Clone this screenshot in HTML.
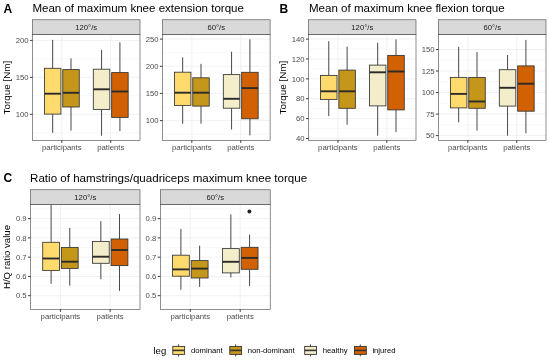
<!DOCTYPE html>
<html lang="en">
<head>
<meta charset="utf-8">
<title>Knee torque boxplots</title>
<style>
html,body{margin:0;padding:0;background:#fff;}
body{width:550px;height:360px;overflow:hidden;}
svg{display:block;font-family:'Liberation Sans', Arial, sans-serif;}
</style>
</head>
<body>
<svg width="550" height="360" viewBox="0 0 550 360">
<rect x="0" y="0" width="550" height="360" fill="#fff"/>
<rect x="32.5" y="34.4" width="107.5" height="105.9" fill="#fff"/>
<line x1="32.5" x2="140.0" y1="132.78" y2="132.78" stroke="#EBEBEB" stroke-width="0.35"/>
<line x1="32.5" x2="140.0" y1="95.82" y2="95.82" stroke="#EBEBEB" stroke-width="0.35"/>
<line x1="32.5" x2="140.0" y1="58.88" y2="58.88" stroke="#EBEBEB" stroke-width="0.35"/>
<line x1="32.5" x2="140.0" y1="40.4" y2="40.4" stroke="#EBEBEB" stroke-width="0.7"/>
<line x1="32.5" x2="140.0" y1="77.35" y2="77.35" stroke="#EBEBEB" stroke-width="0.7"/>
<line x1="32.5" x2="140.0" y1="114.3" y2="114.3" stroke="#EBEBEB" stroke-width="0.7"/>
<line x1="61.839999999999996" x2="61.839999999999996" y1="34.4" y2="140.3" stroke="#EBEBEB" stroke-width="0.7"/>
<line x1="110.74000000000001" x2="110.74000000000001" y1="34.4" y2="140.3" stroke="#EBEBEB" stroke-width="0.7"/>
<line x1="52.67" x2="52.67" y1="39.9" y2="68.3" stroke="#333333" stroke-width="0.9"/>
<line x1="52.67" x2="52.67" y1="114.1" y2="132.8" stroke="#333333" stroke-width="0.9"/>
<rect x="44.42" y="68.3" width="16.50" height="45.80" fill="#FFDB6D" stroke="#333333" stroke-width="0.85"/>
<line x1="44.42" x2="60.92" y1="93.70" y2="93.70" stroke="#2B2B2B" stroke-width="1.9"/>
<line x1="71.01" x2="71.01" y1="58.3" y2="69.6" stroke="#333333" stroke-width="0.9"/>
<line x1="71.01" x2="71.01" y1="107.0" y2="130.6" stroke="#333333" stroke-width="0.9"/>
<rect x="62.76" y="69.6" width="16.50" height="37.40" fill="#C4961A" stroke="#333333" stroke-width="0.85"/>
<line x1="62.76" x2="79.26" y1="92.80" y2="92.80" stroke="#2B2B2B" stroke-width="1.9"/>
<line x1="101.57" x2="101.57" y1="49.9" y2="69.2" stroke="#333333" stroke-width="0.9"/>
<line x1="101.57" x2="101.57" y1="109.4" y2="135.7" stroke="#333333" stroke-width="0.9"/>
<rect x="93.32" y="69.2" width="16.50" height="40.20" fill="#F4EDCA" stroke="#333333" stroke-width="0.85"/>
<line x1="93.32" x2="109.82" y1="89.30" y2="89.30" stroke="#2B2B2B" stroke-width="1.9"/>
<line x1="119.91" x2="119.91" y1="42.3" y2="72.6" stroke="#333333" stroke-width="0.9"/>
<line x1="119.91" x2="119.91" y1="117.4" y2="131.2" stroke="#333333" stroke-width="0.9"/>
<rect x="111.66" y="72.6" width="16.50" height="44.80" fill="#D16103" stroke="#333333" stroke-width="0.85"/>
<line x1="111.66" x2="128.16" y1="91.50" y2="91.50" stroke="#2B2B2B" stroke-width="1.9"/>
<rect x="32.5" y="34.4" width="107.5" height="105.9" fill="none" stroke="#333333" stroke-width="0.55"/>
<rect x="32.5" y="19.8" width="107.5" height="14.599999999999998" fill="#D9D9D9" stroke="#333333" stroke-width="0.55"/>
<text x="86.25" y="29.8" font-size="7.7" fill="#1A1A1A" text-anchor="middle">120°/s</text>
<line x1="29.9" x2="32.5" y1="40.4" y2="40.4" stroke="#333333" stroke-width="0.95"/>
<text x="28.5" y="43.15" font-size="7.7" fill="#4D4D4D" text-anchor="end">200</text>
<line x1="29.9" x2="32.5" y1="77.35" y2="77.35" stroke="#333333" stroke-width="0.95"/>
<text x="28.5" y="80.1" font-size="7.7" fill="#4D4D4D" text-anchor="end">150</text>
<line x1="29.9" x2="32.5" y1="114.3" y2="114.3" stroke="#333333" stroke-width="0.95"/>
<text x="28.5" y="117.05" font-size="7.7" fill="#4D4D4D" text-anchor="end">100</text>
<line x1="61.839999999999996" x2="61.839999999999996" y1="140.3" y2="142.9" stroke="#333333" stroke-width="0.95"/>
<text x="61.839999999999996" y="150" font-size="7.75" fill="#4D4D4D" text-anchor="middle">participants</text>
<line x1="110.74000000000001" x2="110.74000000000001" y1="140.3" y2="142.9" stroke="#333333" stroke-width="0.95"/>
<text x="110.74000000000001" y="150" font-size="7.75" fill="#4D4D4D" text-anchor="middle">patients</text>
<rect x="162.5" y="34.4" width="107.60000000000002" height="105.9" fill="#fff"/>
<line x1="162.5" x2="270.1" y1="134.18" y2="134.18" stroke="#EBEBEB" stroke-width="0.35"/>
<line x1="162.5" x2="270.1" y1="107.02" y2="107.02" stroke="#EBEBEB" stroke-width="0.35"/>
<line x1="162.5" x2="270.1" y1="79.85" y2="79.85" stroke="#EBEBEB" stroke-width="0.35"/>
<line x1="162.5" x2="270.1" y1="52.68" y2="52.68" stroke="#EBEBEB" stroke-width="0.35"/>
<line x1="162.5" x2="270.1" y1="39.1" y2="39.1" stroke="#EBEBEB" stroke-width="0.7"/>
<line x1="162.5" x2="270.1" y1="66.27" y2="66.27" stroke="#EBEBEB" stroke-width="0.7"/>
<line x1="162.5" x2="270.1" y1="93.43" y2="93.43" stroke="#EBEBEB" stroke-width="0.7"/>
<line x1="162.5" x2="270.1" y1="120.6" y2="120.6" stroke="#EBEBEB" stroke-width="0.7"/>
<line x1="191.84" x2="191.84" y1="34.4" y2="140.3" stroke="#EBEBEB" stroke-width="0.7"/>
<line x1="240.74" x2="240.74" y1="34.4" y2="140.3" stroke="#EBEBEB" stroke-width="0.7"/>
<line x1="182.67" x2="182.67" y1="57.4" y2="72.2" stroke="#333333" stroke-width="0.9"/>
<line x1="182.67" x2="182.67" y1="105.4" y2="123.7" stroke="#333333" stroke-width="0.9"/>
<rect x="174.42" y="72.2" width="16.50" height="33.20" fill="#FFDB6D" stroke="#333333" stroke-width="0.85"/>
<line x1="174.42" x2="190.92" y1="92.70" y2="92.70" stroke="#2B2B2B" stroke-width="1.9"/>
<line x1="201.01" x2="201.01" y1="63.9" y2="77.8" stroke="#333333" stroke-width="0.9"/>
<line x1="201.01" x2="201.01" y1="106.1" y2="123.7" stroke="#333333" stroke-width="0.9"/>
<rect x="192.76" y="77.8" width="16.50" height="28.30" fill="#C4961A" stroke="#333333" stroke-width="0.85"/>
<line x1="192.76" x2="209.26" y1="92.70" y2="92.70" stroke="#2B2B2B" stroke-width="1.9"/>
<line x1="231.57" x2="231.57" y1="51.7" y2="74.6" stroke="#333333" stroke-width="0.9"/>
<line x1="231.57" x2="231.57" y1="108.2" y2="129.5" stroke="#333333" stroke-width="0.9"/>
<rect x="223.32" y="74.6" width="16.50" height="33.60" fill="#F4EDCA" stroke="#333333" stroke-width="0.85"/>
<line x1="223.32" x2="239.82" y1="98.80" y2="98.80" stroke="#2B2B2B" stroke-width="1.9"/>
<line x1="249.91" x2="249.91" y1="39.4" y2="72.3" stroke="#333333" stroke-width="0.9"/>
<line x1="249.91" x2="249.91" y1="118.8" y2="135.4" stroke="#333333" stroke-width="0.9"/>
<rect x="241.66" y="72.3" width="16.50" height="46.50" fill="#D16103" stroke="#333333" stroke-width="0.85"/>
<line x1="241.66" x2="258.16" y1="88.10" y2="88.10" stroke="#2B2B2B" stroke-width="1.9"/>
<rect x="162.5" y="34.4" width="107.60000000000002" height="105.9" fill="none" stroke="#333333" stroke-width="0.55"/>
<rect x="162.5" y="19.8" width="107.60000000000002" height="14.599999999999998" fill="#D9D9D9" stroke="#333333" stroke-width="0.55"/>
<text x="216.3" y="29.8" font-size="7.7" fill="#1A1A1A" text-anchor="middle">60°/s</text>
<line x1="159.9" x2="162.5" y1="39.1" y2="39.1" stroke="#333333" stroke-width="0.95"/>
<text x="158.5" y="41.85" font-size="7.7" fill="#4D4D4D" text-anchor="end">250</text>
<line x1="159.9" x2="162.5" y1="66.27" y2="66.27" stroke="#333333" stroke-width="0.95"/>
<text x="158.5" y="69.02" font-size="7.7" fill="#4D4D4D" text-anchor="end">200</text>
<line x1="159.9" x2="162.5" y1="93.43" y2="93.43" stroke="#333333" stroke-width="0.95"/>
<text x="158.5" y="96.18" font-size="7.7" fill="#4D4D4D" text-anchor="end">150</text>
<line x1="159.9" x2="162.5" y1="120.6" y2="120.6" stroke="#333333" stroke-width="0.95"/>
<text x="158.5" y="123.35" font-size="7.7" fill="#4D4D4D" text-anchor="end">100</text>
<line x1="191.84" x2="191.84" y1="140.3" y2="142.9" stroke="#333333" stroke-width="0.95"/>
<text x="191.84" y="150" font-size="7.75" fill="#4D4D4D" text-anchor="middle">participants</text>
<line x1="240.74" x2="240.74" y1="140.3" y2="142.9" stroke="#333333" stroke-width="0.95"/>
<text x="240.74" y="150" font-size="7.75" fill="#4D4D4D" text-anchor="middle">patients</text>
<rect x="308.6" y="34.4" width="107.39999999999998" height="105.9" fill="#fff"/>
<line x1="308.6" x2="416.0" y1="128.56" y2="128.56" stroke="#EBEBEB" stroke-width="0.35"/>
<line x1="308.6" x2="416.0" y1="108.68" y2="108.68" stroke="#EBEBEB" stroke-width="0.35"/>
<line x1="308.6" x2="416.0" y1="88.8" y2="88.8" stroke="#EBEBEB" stroke-width="0.35"/>
<line x1="308.6" x2="416.0" y1="68.92" y2="68.92" stroke="#EBEBEB" stroke-width="0.35"/>
<line x1="308.6" x2="416.0" y1="49.04" y2="49.04" stroke="#EBEBEB" stroke-width="0.35"/>
<line x1="308.6" x2="416.0" y1="39.1" y2="39.1" stroke="#EBEBEB" stroke-width="0.7"/>
<line x1="308.6" x2="416.0" y1="58.98" y2="58.98" stroke="#EBEBEB" stroke-width="0.7"/>
<line x1="308.6" x2="416.0" y1="78.86" y2="78.86" stroke="#EBEBEB" stroke-width="0.7"/>
<line x1="308.6" x2="416.0" y1="98.74" y2="98.74" stroke="#EBEBEB" stroke-width="0.7"/>
<line x1="308.6" x2="416.0" y1="118.62" y2="118.62" stroke="#EBEBEB" stroke-width="0.7"/>
<line x1="308.6" x2="416.0" y1="138.5" y2="138.5" stroke="#EBEBEB" stroke-width="0.7"/>
<line x1="337.94" x2="337.94" y1="34.4" y2="140.3" stroke="#EBEBEB" stroke-width="0.7"/>
<line x1="386.84000000000003" x2="386.84000000000003" y1="34.4" y2="140.3" stroke="#EBEBEB" stroke-width="0.7"/>
<line x1="328.77" x2="328.77" y1="41.2" y2="75.4" stroke="#333333" stroke-width="0.9"/>
<line x1="328.77" x2="328.77" y1="99.4" y2="116.1" stroke="#333333" stroke-width="0.9"/>
<rect x="320.52" y="75.4" width="16.50" height="24.00" fill="#FFDB6D" stroke="#333333" stroke-width="0.85"/>
<line x1="320.52" x2="337.02" y1="91.30" y2="91.30" stroke="#2B2B2B" stroke-width="1.9"/>
<line x1="347.11" x2="347.11" y1="46.6" y2="70.1" stroke="#333333" stroke-width="0.9"/>
<line x1="347.11" x2="347.11" y1="108.3" y2="124.6" stroke="#333333" stroke-width="0.9"/>
<rect x="338.86" y="70.1" width="16.50" height="38.20" fill="#C4961A" stroke="#333333" stroke-width="0.85"/>
<line x1="338.86" x2="355.36" y1="91.30" y2="91.30" stroke="#2B2B2B" stroke-width="1.9"/>
<line x1="377.67" x2="377.67" y1="42.8" y2="65.1" stroke="#333333" stroke-width="0.9"/>
<line x1="377.67" x2="377.67" y1="105.9" y2="135.7" stroke="#333333" stroke-width="0.9"/>
<rect x="369.42" y="65.1" width="16.50" height="40.80" fill="#F4EDCA" stroke="#333333" stroke-width="0.85"/>
<line x1="369.42" x2="385.92" y1="72.30" y2="72.30" stroke="#2B2B2B" stroke-width="1.9"/>
<line x1="396.01" x2="396.01" y1="39.4" y2="55.4" stroke="#333333" stroke-width="0.9"/>
<line x1="396.01" x2="396.01" y1="109.9" y2="132.1" stroke="#333333" stroke-width="0.9"/>
<rect x="387.76" y="55.4" width="16.50" height="54.50" fill="#D16103" stroke="#333333" stroke-width="0.85"/>
<line x1="387.76" x2="404.26" y1="71.50" y2="71.50" stroke="#2B2B2B" stroke-width="1.9"/>
<rect x="308.6" y="34.4" width="107.39999999999998" height="105.9" fill="none" stroke="#333333" stroke-width="0.55"/>
<rect x="308.6" y="19.8" width="107.39999999999998" height="14.599999999999998" fill="#D9D9D9" stroke="#333333" stroke-width="0.55"/>
<text x="362.3" y="29.8" font-size="7.7" fill="#1A1A1A" text-anchor="middle">120°/s</text>
<line x1="306.0" x2="308.6" y1="39.1" y2="39.1" stroke="#333333" stroke-width="0.95"/>
<text x="304.6" y="41.85" font-size="7.7" fill="#4D4D4D" text-anchor="end">140</text>
<line x1="306.0" x2="308.6" y1="58.98" y2="58.98" stroke="#333333" stroke-width="0.95"/>
<text x="304.6" y="61.73" font-size="7.7" fill="#4D4D4D" text-anchor="end">120</text>
<line x1="306.0" x2="308.6" y1="78.86" y2="78.86" stroke="#333333" stroke-width="0.95"/>
<text x="304.6" y="81.61" font-size="7.7" fill="#4D4D4D" text-anchor="end">100</text>
<line x1="306.0" x2="308.6" y1="98.74" y2="98.74" stroke="#333333" stroke-width="0.95"/>
<text x="304.6" y="101.49" font-size="7.7" fill="#4D4D4D" text-anchor="end">80</text>
<line x1="306.0" x2="308.6" y1="118.62" y2="118.62" stroke="#333333" stroke-width="0.95"/>
<text x="304.6" y="121.37" font-size="7.7" fill="#4D4D4D" text-anchor="end">60</text>
<line x1="306.0" x2="308.6" y1="138.5" y2="138.5" stroke="#333333" stroke-width="0.95"/>
<text x="304.6" y="141.25" font-size="7.7" fill="#4D4D4D" text-anchor="end">40</text>
<line x1="337.94" x2="337.94" y1="140.3" y2="142.9" stroke="#333333" stroke-width="0.95"/>
<text x="337.94" y="150" font-size="7.75" fill="#4D4D4D" text-anchor="middle">participants</text>
<line x1="386.84000000000003" x2="386.84000000000003" y1="140.3" y2="142.9" stroke="#333333" stroke-width="0.95"/>
<text x="386.84000000000003" y="150" font-size="7.75" fill="#4D4D4D" text-anchor="middle">patients</text>
<rect x="438.5" y="34.4" width="107.5" height="105.9" fill="#fff"/>
<line x1="438.5" x2="546.0" y1="124.84" y2="124.84" stroke="#EBEBEB" stroke-width="0.35"/>
<line x1="438.5" x2="546.0" y1="103.31" y2="103.31" stroke="#EBEBEB" stroke-width="0.35"/>
<line x1="438.5" x2="546.0" y1="81.79" y2="81.79" stroke="#EBEBEB" stroke-width="0.35"/>
<line x1="438.5" x2="546.0" y1="60.26" y2="60.26" stroke="#EBEBEB" stroke-width="0.35"/>
<line x1="438.5" x2="546.0" y1="49.5" y2="49.5" stroke="#EBEBEB" stroke-width="0.7"/>
<line x1="438.5" x2="546.0" y1="71.03" y2="71.03" stroke="#EBEBEB" stroke-width="0.7"/>
<line x1="438.5" x2="546.0" y1="92.55" y2="92.55" stroke="#EBEBEB" stroke-width="0.7"/>
<line x1="438.5" x2="546.0" y1="114.08" y2="114.08" stroke="#EBEBEB" stroke-width="0.7"/>
<line x1="438.5" x2="546.0" y1="135.6" y2="135.6" stroke="#EBEBEB" stroke-width="0.7"/>
<line x1="467.84" x2="467.84" y1="34.4" y2="140.3" stroke="#EBEBEB" stroke-width="0.7"/>
<line x1="516.74" x2="516.74" y1="34.4" y2="140.3" stroke="#EBEBEB" stroke-width="0.7"/>
<line x1="458.67" x2="458.67" y1="46.8" y2="77.4" stroke="#333333" stroke-width="0.9"/>
<line x1="458.67" x2="458.67" y1="107.9" y2="122.3" stroke="#333333" stroke-width="0.9"/>
<rect x="450.42" y="77.4" width="16.50" height="30.50" fill="#FFDB6D" stroke="#333333" stroke-width="0.85"/>
<line x1="450.42" x2="466.92" y1="93.90" y2="93.90" stroke="#2B2B2B" stroke-width="1.9"/>
<line x1="477.01" x2="477.01" y1="52.1" y2="77.4" stroke="#333333" stroke-width="0.9"/>
<line x1="477.01" x2="477.01" y1="108.3" y2="130.6" stroke="#333333" stroke-width="0.9"/>
<rect x="468.76" y="77.4" width="16.50" height="30.90" fill="#C4961A" stroke="#333333" stroke-width="0.85"/>
<line x1="468.76" x2="485.26" y1="101.50" y2="101.50" stroke="#2B2B2B" stroke-width="1.9"/>
<line x1="507.57" x2="507.57" y1="55.0" y2="69.7" stroke="#333333" stroke-width="0.9"/>
<line x1="507.57" x2="507.57" y1="106.1" y2="135.7" stroke="#333333" stroke-width="0.9"/>
<rect x="499.32" y="69.7" width="16.50" height="36.40" fill="#F4EDCA" stroke="#333333" stroke-width="0.85"/>
<line x1="499.32" x2="515.82" y1="87.80" y2="87.80" stroke="#2B2B2B" stroke-width="1.9"/>
<line x1="525.91" x2="525.91" y1="39.9" y2="65.9" stroke="#333333" stroke-width="0.9"/>
<line x1="525.91" x2="525.91" y1="111.2" y2="133.4" stroke="#333333" stroke-width="0.9"/>
<rect x="517.66" y="65.9" width="16.50" height="45.30" fill="#D16103" stroke="#333333" stroke-width="0.85"/>
<line x1="517.66" x2="534.16" y1="83.70" y2="83.70" stroke="#2B2B2B" stroke-width="1.9"/>
<rect x="438.5" y="34.4" width="107.5" height="105.9" fill="none" stroke="#333333" stroke-width="0.55"/>
<rect x="438.5" y="19.8" width="107.5" height="14.599999999999998" fill="#D9D9D9" stroke="#333333" stroke-width="0.55"/>
<text x="492.25" y="29.8" font-size="7.7" fill="#1A1A1A" text-anchor="middle">60°/s</text>
<line x1="435.9" x2="438.5" y1="49.5" y2="49.5" stroke="#333333" stroke-width="0.95"/>
<text x="434.5" y="52.25" font-size="7.7" fill="#4D4D4D" text-anchor="end">150</text>
<line x1="435.9" x2="438.5" y1="71.03" y2="71.03" stroke="#333333" stroke-width="0.95"/>
<text x="434.5" y="73.78" font-size="7.7" fill="#4D4D4D" text-anchor="end">125</text>
<line x1="435.9" x2="438.5" y1="92.55" y2="92.55" stroke="#333333" stroke-width="0.95"/>
<text x="434.5" y="95.3" font-size="7.7" fill="#4D4D4D" text-anchor="end">100</text>
<line x1="435.9" x2="438.5" y1="114.08" y2="114.08" stroke="#333333" stroke-width="0.95"/>
<text x="434.5" y="116.83" font-size="7.7" fill="#4D4D4D" text-anchor="end">75</text>
<line x1="435.9" x2="438.5" y1="135.6" y2="135.6" stroke="#333333" stroke-width="0.95"/>
<text x="434.5" y="138.35" font-size="7.7" fill="#4D4D4D" text-anchor="end">50</text>
<line x1="467.84" x2="467.84" y1="140.3" y2="142.9" stroke="#333333" stroke-width="0.95"/>
<text x="467.84" y="150" font-size="7.75" fill="#4D4D4D" text-anchor="middle">participants</text>
<line x1="516.74" x2="516.74" y1="140.3" y2="142.9" stroke="#333333" stroke-width="0.95"/>
<text x="516.74" y="150" font-size="7.75" fill="#4D4D4D" text-anchor="middle">patients</text>
<rect x="30.6" y="204.4" width="109.4" height="104.9" fill="#fff"/>
<line x1="30.6" x2="140.0" y1="305.34" y2="305.34" stroke="#EBEBEB" stroke-width="0.35"/>
<line x1="30.6" x2="140.0" y1="286.06" y2="286.06" stroke="#EBEBEB" stroke-width="0.35"/>
<line x1="30.6" x2="140.0" y1="266.79" y2="266.79" stroke="#EBEBEB" stroke-width="0.35"/>
<line x1="30.6" x2="140.0" y1="247.51" y2="247.51" stroke="#EBEBEB" stroke-width="0.35"/>
<line x1="30.6" x2="140.0" y1="228.24" y2="228.24" stroke="#EBEBEB" stroke-width="0.35"/>
<line x1="30.6" x2="140.0" y1="208.96" y2="208.96" stroke="#EBEBEB" stroke-width="0.35"/>
<line x1="30.6" x2="140.0" y1="218.6" y2="218.6" stroke="#EBEBEB" stroke-width="0.7"/>
<line x1="30.6" x2="140.0" y1="237.88" y2="237.88" stroke="#EBEBEB" stroke-width="0.7"/>
<line x1="30.6" x2="140.0" y1="257.15" y2="257.15" stroke="#EBEBEB" stroke-width="0.7"/>
<line x1="30.6" x2="140.0" y1="276.43" y2="276.43" stroke="#EBEBEB" stroke-width="0.7"/>
<line x1="30.6" x2="140.0" y1="295.7" y2="295.7" stroke="#EBEBEB" stroke-width="0.7"/>
<line x1="60.438" x2="60.438" y1="204.4" y2="309.3" stroke="#EBEBEB" stroke-width="0.7"/>
<line x1="110.168" x2="110.168" y1="204.4" y2="309.3" stroke="#EBEBEB" stroke-width="0.7"/>
<line x1="51.11" x2="51.11" y1="205.0" y2="242.3" stroke="#333333" stroke-width="0.9"/>
<line x1="51.11" x2="51.11" y1="270.4" y2="283.8" stroke="#333333" stroke-width="0.9"/>
<rect x="42.72" y="242.3" width="16.78" height="28.10" fill="#FFDB6D" stroke="#333333" stroke-width="0.85"/>
<line x1="42.72" x2="59.51" y1="258.50" y2="258.50" stroke="#2B2B2B" stroke-width="1.9"/>
<line x1="69.76" x2="69.76" y1="227.9" y2="247.4" stroke="#333333" stroke-width="0.9"/>
<line x1="69.76" x2="69.76" y1="268.4" y2="285.6" stroke="#333333" stroke-width="0.9"/>
<rect x="61.37" y="247.4" width="16.78" height="21.00" fill="#C4961A" stroke="#333333" stroke-width="0.85"/>
<line x1="61.37" x2="78.15" y1="261.70" y2="261.70" stroke="#2B2B2B" stroke-width="1.9"/>
<line x1="100.84" x2="100.84" y1="221.2" y2="241.4" stroke="#333333" stroke-width="0.9"/>
<line x1="100.84" x2="100.84" y1="263.3" y2="279.3" stroke="#333333" stroke-width="0.9"/>
<rect x="92.45" y="241.4" width="16.78" height="21.90" fill="#F4EDCA" stroke="#333333" stroke-width="0.85"/>
<line x1="92.45" x2="109.24" y1="256.70" y2="256.70" stroke="#2B2B2B" stroke-width="1.9"/>
<line x1="119.49" x2="119.49" y1="214.1" y2="239.0" stroke="#333333" stroke-width="0.9"/>
<line x1="119.49" x2="119.49" y1="265.6" y2="290.9" stroke="#333333" stroke-width="0.9"/>
<rect x="111.10" y="239.0" width="16.78" height="26.60" fill="#D16103" stroke="#333333" stroke-width="0.85"/>
<line x1="111.10" x2="127.88" y1="250.00" y2="250.00" stroke="#2B2B2B" stroke-width="1.9"/>
<rect x="30.6" y="204.4" width="109.4" height="104.9" fill="none" stroke="#333333" stroke-width="0.55"/>
<rect x="30.6" y="189.8" width="109.4" height="14.599999999999994" fill="#D9D9D9" stroke="#333333" stroke-width="0.55"/>
<text x="85.3" y="199.8" font-size="7.7" fill="#1A1A1A" text-anchor="middle">120°/s</text>
<line x1="28.0" x2="30.6" y1="218.6" y2="218.6" stroke="#333333" stroke-width="0.95"/>
<text x="26.6" y="221.35" font-size="7.7" fill="#4D4D4D" text-anchor="end">0.9</text>
<line x1="28.0" x2="30.6" y1="237.88" y2="237.88" stroke="#333333" stroke-width="0.95"/>
<text x="26.6" y="240.63" font-size="7.7" fill="#4D4D4D" text-anchor="end">0.8</text>
<line x1="28.0" x2="30.6" y1="257.15" y2="257.15" stroke="#333333" stroke-width="0.95"/>
<text x="26.6" y="259.9" font-size="7.7" fill="#4D4D4D" text-anchor="end">0.7</text>
<line x1="28.0" x2="30.6" y1="276.43" y2="276.43" stroke="#333333" stroke-width="0.95"/>
<text x="26.6" y="279.18" font-size="7.7" fill="#4D4D4D" text-anchor="end">0.6</text>
<line x1="28.0" x2="30.6" y1="295.7" y2="295.7" stroke="#333333" stroke-width="0.95"/>
<text x="26.6" y="298.45" font-size="7.7" fill="#4D4D4D" text-anchor="end">0.5</text>
<line x1="60.438" x2="60.438" y1="309.3" y2="311.90000000000003" stroke="#333333" stroke-width="0.95"/>
<text x="60.438" y="319" font-size="7.75" fill="#4D4D4D" text-anchor="middle">participants</text>
<line x1="110.168" x2="110.168" y1="309.3" y2="311.90000000000003" stroke="#333333" stroke-width="0.95"/>
<text x="110.168" y="319" font-size="7.75" fill="#4D4D4D" text-anchor="middle">patients</text>
<rect x="160.3" y="204.4" width="109.89999999999998" height="104.9" fill="#fff"/>
<line x1="160.3" x2="270.2" y1="305.34" y2="305.34" stroke="#EBEBEB" stroke-width="0.35"/>
<line x1="160.3" x2="270.2" y1="286.06" y2="286.06" stroke="#EBEBEB" stroke-width="0.35"/>
<line x1="160.3" x2="270.2" y1="266.79" y2="266.79" stroke="#EBEBEB" stroke-width="0.35"/>
<line x1="160.3" x2="270.2" y1="247.51" y2="247.51" stroke="#EBEBEB" stroke-width="0.35"/>
<line x1="160.3" x2="270.2" y1="228.24" y2="228.24" stroke="#EBEBEB" stroke-width="0.35"/>
<line x1="160.3" x2="270.2" y1="208.96" y2="208.96" stroke="#EBEBEB" stroke-width="0.35"/>
<line x1="160.3" x2="270.2" y1="218.6" y2="218.6" stroke="#EBEBEB" stroke-width="0.7"/>
<line x1="160.3" x2="270.2" y1="237.88" y2="237.88" stroke="#EBEBEB" stroke-width="0.7"/>
<line x1="160.3" x2="270.2" y1="257.15" y2="257.15" stroke="#EBEBEB" stroke-width="0.7"/>
<line x1="160.3" x2="270.2" y1="276.43" y2="276.43" stroke="#EBEBEB" stroke-width="0.7"/>
<line x1="160.3" x2="270.2" y1="295.7" y2="295.7" stroke="#EBEBEB" stroke-width="0.7"/>
<line x1="190.27" x2="190.27" y1="204.4" y2="309.3" stroke="#EBEBEB" stroke-width="0.7"/>
<line x1="240.22000000000003" x2="240.22000000000003" y1="204.4" y2="309.3" stroke="#EBEBEB" stroke-width="0.7"/>
<line x1="180.90" x2="180.90" y1="229.0" y2="255.2" stroke="#333333" stroke-width="0.9"/>
<line x1="180.90" x2="180.90" y1="276.2" y2="289.7" stroke="#333333" stroke-width="0.9"/>
<rect x="172.48" y="255.2" width="16.86" height="21.00" fill="#FFDB6D" stroke="#333333" stroke-width="0.85"/>
<line x1="172.48" x2="189.33" y1="269.40" y2="269.40" stroke="#2B2B2B" stroke-width="1.9"/>
<line x1="199.64" x2="199.64" y1="245.6" y2="260.6" stroke="#333333" stroke-width="0.9"/>
<line x1="199.64" x2="199.64" y1="278.0" y2="286.9" stroke="#333333" stroke-width="0.9"/>
<rect x="191.21" y="260.6" width="16.86" height="17.40" fill="#C4961A" stroke="#333333" stroke-width="0.85"/>
<line x1="191.21" x2="208.06" y1="268.60" y2="268.60" stroke="#2B2B2B" stroke-width="1.9"/>
<line x1="230.85" x2="230.85" y1="214.3" y2="248.6" stroke="#333333" stroke-width="0.9"/>
<line x1="230.85" x2="230.85" y1="272.9" y2="277.5" stroke="#333333" stroke-width="0.9"/>
<rect x="222.43" y="248.6" width="16.86" height="24.30" fill="#F4EDCA" stroke="#333333" stroke-width="0.85"/>
<line x1="222.43" x2="239.28" y1="261.80" y2="261.80" stroke="#2B2B2B" stroke-width="1.9"/>
<line x1="249.59" x2="249.59" y1="234.6" y2="247.3" stroke="#333333" stroke-width="0.9"/>
<line x1="249.59" x2="249.59" y1="269.3" y2="285.9" stroke="#333333" stroke-width="0.9"/>
<rect x="241.16" y="247.3" width="16.86" height="22.00" fill="#D16103" stroke="#333333" stroke-width="0.85"/>
<line x1="241.16" x2="258.01" y1="257.90" y2="257.90" stroke="#2B2B2B" stroke-width="1.9"/>
<circle cx="249.4" cy="211.5" r="1.95" fill="#222"/>
<rect x="160.3" y="204.4" width="109.89999999999998" height="104.9" fill="none" stroke="#333333" stroke-width="0.55"/>
<rect x="160.3" y="189.8" width="109.89999999999998" height="14.599999999999994" fill="#D9D9D9" stroke="#333333" stroke-width="0.55"/>
<text x="215.25" y="199.8" font-size="7.7" fill="#1A1A1A" text-anchor="middle">60°/s</text>
<line x1="157.70000000000002" x2="160.3" y1="218.6" y2="218.6" stroke="#333333" stroke-width="0.95"/>
<text x="156.3" y="221.35" font-size="7.7" fill="#4D4D4D" text-anchor="end">0.9</text>
<line x1="157.70000000000002" x2="160.3" y1="237.88" y2="237.88" stroke="#333333" stroke-width="0.95"/>
<text x="156.3" y="240.63" font-size="7.7" fill="#4D4D4D" text-anchor="end">0.8</text>
<line x1="157.70000000000002" x2="160.3" y1="257.15" y2="257.15" stroke="#333333" stroke-width="0.95"/>
<text x="156.3" y="259.9" font-size="7.7" fill="#4D4D4D" text-anchor="end">0.7</text>
<line x1="157.70000000000002" x2="160.3" y1="276.43" y2="276.43" stroke="#333333" stroke-width="0.95"/>
<text x="156.3" y="279.18" font-size="7.7" fill="#4D4D4D" text-anchor="end">0.6</text>
<line x1="157.70000000000002" x2="160.3" y1="295.7" y2="295.7" stroke="#333333" stroke-width="0.95"/>
<text x="156.3" y="298.45" font-size="7.7" fill="#4D4D4D" text-anchor="end">0.5</text>
<line x1="190.27" x2="190.27" y1="309.3" y2="311.90000000000003" stroke="#333333" stroke-width="0.95"/>
<text x="190.27" y="319" font-size="7.75" fill="#4D4D4D" text-anchor="middle">participants</text>
<line x1="240.22000000000003" x2="240.22000000000003" y1="309.3" y2="311.90000000000003" stroke="#333333" stroke-width="0.95"/>
<text x="240.22000000000003" y="319" font-size="7.75" fill="#4D4D4D" text-anchor="middle">patients</text>
<text x="3.6" y="12.6" font-size="12" font-weight="bold" fill="#000">A</text>
<text x="32.4" y="12.4" font-size="11.5" fill="#000" textLength="211.5" lengthAdjust="spacingAndGlyphs">Mean of maximum knee extension torque</text>
<text x="279.6" y="12.6" font-size="12" font-weight="bold" fill="#000">B</text>
<text x="309.0" y="12.4" font-size="11.5" fill="#000" textLength="195.7" lengthAdjust="spacingAndGlyphs">Mean of maximum knee flexion torque</text>
<text x="3.4" y="181.7" font-size="12" font-weight="bold" fill="#000">C</text>
<text x="30.1" y="181.5" font-size="11.5" fill="#000" textLength="277.0" lengthAdjust="spacingAndGlyphs">Ratio of hamstrings/quadriceps maximum knee torque</text>
<text transform="translate(10.4,87.6) rotate(-90)" font-size="9.6" fill="#000" text-anchor="middle" textLength="53.6" lengthAdjust="spacingAndGlyphs">Torque [Nm]</text>
<text transform="translate(286.2,87.6) rotate(-90)" font-size="9.6" fill="#000" text-anchor="middle" textLength="53.6" lengthAdjust="spacingAndGlyphs">Torque [Nm]</text>
<text transform="translate(10.3,257.0) rotate(-90)" font-size="9.6" fill="#000" text-anchor="middle" textLength="64.0" lengthAdjust="spacingAndGlyphs">H/Q ratio value</text>
<text x="153.5" y="354.0" font-size="9.5" fill="#000">leg</text>
<line x1="178.6" x2="178.6" y1="344.4" y2="356.4" stroke="#333333" stroke-width="0.9"/>
<rect x="172.79999999999998" y="346.4" width="11.8" height="8.0" fill="#FFDB6D" stroke="#333333" stroke-width="0.9"/>
<line x1="172.79999999999998" x2="184.6" y1="350.4" y2="350.4" stroke="#333333" stroke-width="1.6"/>
<text x="191.0" y="353.1" font-size="7.7" fill="#000">dominant</text>
<line x1="235.6" x2="235.6" y1="344.4" y2="356.4" stroke="#333333" stroke-width="0.9"/>
<rect x="229.79999999999998" y="346.4" width="11.8" height="8.0" fill="#C4961A" stroke="#333333" stroke-width="0.9"/>
<line x1="229.79999999999998" x2="241.6" y1="350.4" y2="350.4" stroke="#333333" stroke-width="1.6"/>
<text x="247.7" y="353.1" font-size="7.7" fill="#000">non-dominant</text>
<line x1="310.5" x2="310.5" y1="344.4" y2="356.4" stroke="#333333" stroke-width="0.9"/>
<rect x="304.7" y="346.4" width="11.8" height="8.0" fill="#F4EDCA" stroke="#333333" stroke-width="0.9"/>
<line x1="304.7" x2="316.5" y1="350.4" y2="350.4" stroke="#333333" stroke-width="1.6"/>
<text x="322.8" y="353.1" font-size="7.7" fill="#000">healthy</text>
<line x1="360.3" x2="360.3" y1="344.4" y2="356.4" stroke="#333333" stroke-width="0.9"/>
<rect x="354.5" y="346.4" width="11.8" height="8.0" fill="#D16103" stroke="#333333" stroke-width="0.9"/>
<line x1="354.5" x2="366.3" y1="350.4" y2="350.4" stroke="#333333" stroke-width="1.6"/>
<text x="372.40000000000003" y="353.1" font-size="7.7" fill="#000">injured</text>
</svg>
</body>
</html>
